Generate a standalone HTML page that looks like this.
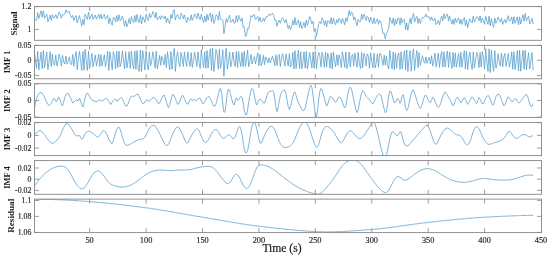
<!DOCTYPE html>
<html><head><meta charset="utf-8"><title>EMD decomposition</title>
<style>html,body{margin:0;padding:0;background:#fff}svg{display:block}text{font-family:"Liberation Serif",serif}</style></head><body>
<svg width="550" height="256" viewBox="0 0 550 256">
<rect width="550" height="256" fill="#fff"/>
<g>
<clipPath id="csig"><rect x="34.5" y="6.6" width="507.0" height="33.7"/></clipPath>
<path clip-path="url(#csig)" d="M34.3,18.8 35.5,19.9 36.6,20.3 37.7,12.5 38.8,18.5 40.0,14.2 41.1,10.7 42.2,17.2 43.4,10.9 44.5,18.4 45.6,16.3 46.7,14.2 47.9,21.8 49.0,19.3 50.1,15.2 51.3,20.3 52.4,14.7 53.5,17.8 54.6,17.8 55.8,14.6 56.9,18.5 58.0,15.4 59.2,12.1 60.3,14.8 61.4,18.2 62.5,14.2 63.7,14.9 64.8,13.9 65.9,9.8 67.1,12.6 68.2,11.9 69.3,11.3 70.4,15.6 71.6,17.6 72.7,15.4 73.8,20.4 75.0,17.3 76.1,15.5 77.2,22.8 78.3,19.3 79.5,15.6 80.6,20.4 81.7,25.8 82.9,19.4 84.0,24.6 85.1,14.3 86.2,16.6 87.4,19.5 88.5,12.3 89.6,19.2 90.8,17.0 91.9,14.1 93.0,19.3 94.1,17.1 95.3,15.0 96.4,19.3 97.5,17.1 98.7,14.4 99.8,18.7 100.9,14.3 102.0,18.8 103.2,16.5 104.3,14.5 105.4,19.1 106.6,17.3 107.7,15.2 108.8,23.9 109.9,18.1 111.1,22.2 112.2,25.2 113.3,17.4 114.5,18.1 115.6,22.1 116.7,15.6 117.8,21.4 119.0,14.7 120.1,20.6 121.2,19.6 122.4,16.2 123.5,21.0 124.6,26.1 125.7,20.5 126.9,26.7 128.0,23.5 129.1,18.5 130.3,23.7 131.4,16.5 132.5,20.6 133.6,22.7 134.8,15.5 135.9,22.0 137.0,14.3 138.2,20.8 139.3,22.6 140.4,15.2 141.5,24.0 142.7,16.6 143.8,19.2 144.9,22.5 146.1,14.3 147.2,18.5 148.3,20.7 149.4,13.5 150.6,17.8 151.7,15.5 152.8,11.5 153.9,13.9 155.1,17.9 156.2,12.2 157.3,19.9 158.5,18.8 159.6,16.1 160.7,19.4 161.8,15.6 163.0,16.8 164.1,18.7 165.2,16.1 166.4,22.6 167.5,18.0 168.6,21.8 169.7,23.7 170.9,14.6 172.0,18.4 173.1,11.8 174.3,9.7 175.4,19.9 176.5,15.8 177.6,14.3 178.8,18.2 179.9,19.4 181.0,13.2 182.2,14.9 183.3,18.9 184.4,14.8 185.5,19.3 186.7,22.7 187.8,17.4 188.9,19.3 190.1,20.7 191.2,14.8 192.3,20.5 193.4,17.6 194.6,13.8 195.7,16.0 196.8,18.9 198.0,13.0 199.1,17.2 200.2,19.8 201.3,14.2 202.5,19.2 203.6,22.6 204.7,16.1 205.9,21.7 207.0,14.2 208.1,20.2 209.2,15.4 210.4,13.0 211.5,21.8 212.6,14.2 213.8,23.5 214.9,20.2 216.0,14.9 217.1,15.4 218.3,20.2 219.4,11.5 220.5,19.2 221.7,19.5 222.8,19.9 223.9,33.7 225.0,26.8 226.2,18.5 227.3,22.6 228.4,18.4 229.6,15.2 230.7,22.2 231.8,21.6 232.9,19.2 234.1,23.4 235.2,22.9 236.3,15.6 237.5,22.1 238.6,15.4 239.7,18.7 240.8,21.3 242.0,17.9 243.1,27.2 244.2,26.8 245.4,36.7 246.5,35.3 247.6,28.3 248.7,29.2 249.9,22.2 251.0,15.7 252.1,17.1 253.3,14.9 254.4,14.7 255.5,19.5 256.6,18.6 257.8,16.5 258.9,21.4 260.0,17.3 261.2,22.0 262.3,20.9 263.4,18.3 264.5,21.4 265.7,17.0 266.8,16.5 267.9,16.4 269.1,13.9 270.2,15.6 271.3,14.6 272.4,13.1 273.6,15.2 274.7,20.2 275.8,19.8 277.0,26.3 278.1,22.0 279.2,20.0 280.3,23.2 281.5,19.4 282.6,17.6 283.7,19.7 284.9,22.6 286.0,19.6 287.1,24.4 288.2,28.7 289.4,25.2 290.5,29.3 291.6,27.1 292.8,20.4 293.9,25.0 295.0,17.6 296.1,25.1 297.3,22.0 298.4,20.1 299.5,27.4 300.7,21.6 301.8,28.5 302.9,26.3 304.0,22.3 305.2,27.7 306.3,20.0 307.4,25.3 308.6,20.6 309.7,16.5 310.8,19.3 311.9,23.8 313.1,21.3 314.2,31.5 315.3,28.7 316.5,36.3 317.6,30.1 318.7,23.6 319.8,21.5 321.0,23.8 322.1,17.7 323.2,20.5 324.4,25.2 325.5,20.5 326.6,27.0 327.7,20.7 328.9,21.1 330.0,23.7 331.1,17.6 332.3,24.1 333.4,18.3 334.5,22.1 335.6,24.8 336.8,19.7 337.9,22.8 339.0,18.3 340.2,20.0 341.3,23.5 342.4,18.1 343.5,21.1 344.7,24.8 345.8,17.7 346.9,21.4 348.1,16.8 349.2,10.5 350.3,15.5 351.4,12.0 352.6,13.3 353.7,19.9 354.8,17.1 356.0,22.3 357.1,25.7 358.2,19.3 359.3,21.6 360.5,21.7 361.6,14.2 362.7,19.3 363.9,14.2 365.0,16.2 366.1,20.6 367.2,16.4 368.4,17.6 369.5,22.6 370.6,17.2 371.8,21.2 372.9,23.7 374.0,17.9 375.1,23.5 376.3,21.5 377.4,18.7 378.5,24.4 379.6,20.4 380.8,22.1 381.9,27.4 383.0,33.5 384.2,33.3 385.3,38.9 386.4,33.4 387.5,31.8 388.7,28.2 389.8,17.5 390.9,20.5 392.1,23.6 393.2,18.0 394.3,25.7 395.4,19.2 396.6,24.1 397.7,18.6 398.8,18.0 400.0,25.0 401.1,17.7 402.2,23.1 403.3,19.7 404.5,19.7 405.6,29.7 406.7,23.0 407.9,30.3 409.0,23.5 410.1,18.3 411.2,23.9 412.4,16.4 413.5,13.4 414.6,22.1 415.8,18.2 416.9,16.3 418.0,23.5 419.1,18.4 420.3,23.5 421.4,20.7 422.5,17.2 423.7,17.7 424.8,16.9 425.9,14.0 427.0,17.0 428.2,16.8 429.3,17.0 430.4,20.4 431.6,16.9 432.7,20.6 433.8,20.1 434.9,18.1 436.1,24.5 437.2,23.0 438.3,20.3 439.5,24.9 440.6,19.3 441.7,16.2 442.8,20.8 444.0,13.8 445.1,18.7 446.2,15.9 447.4,13.9 448.5,20.9 449.6,15.9 450.7,20.2 451.9,24.2 453.0,19.2 454.1,24.5 455.3,18.1 456.4,22.7 457.5,19.7 458.6,17.9 459.8,23.9 460.9,19.2 462.0,24.5 463.2,20.3 464.3,17.6 465.4,25.6 466.5,20.1 467.7,27.6 468.8,22.3 469.9,18.7 471.1,22.1 472.2,22.9 473.3,16.0 474.4,22.1 475.6,19.4 476.7,16.9 477.8,17.3 479.0,20.9 480.1,16.0 481.2,22.7 482.3,18.1 483.5,20.8 484.6,24.4 485.7,16.3 486.9,21.0 488.0,24.3 489.1,16.1 490.2,25.9 491.4,18.6 492.5,24.5 493.6,27.2 494.8,18.1 495.9,23.3 497.0,21.2 498.1,16.9 499.3,19.9 500.4,22.2 501.5,18.2 502.7,24.4 503.8,21.5 504.9,19.5 506.0,23.0 507.2,19.3 508.3,15.7 509.4,21.3 510.6,20.0 511.7,17.0 512.8,23.9 513.9,16.8 515.1,23.3 516.2,20.5 517.3,16.9 518.5,25.0 519.6,16.9 520.7,24.1 521.8,19.4 523.0,14.8 524.1,21.2 525.2,13.5 526.4,20.8 527.5,18.0 528.6,16.3 529.7,23.9 530.9,21.5 532.0,18.3 533.1,24.2" fill="none" stroke="#4f9bcd" stroke-width="0.74" stroke-linejoin="round"/>
<rect x="34.5" y="6.6" width="507.0" height="33.7" fill="none" stroke="#868686" stroke-width="0.9"/>
<path d="M89.6,40.3v-4.5M89.6,6.6v4.5M146.1,40.3v-4.5M146.1,6.6v4.5M202.5,40.3v-4.5M202.5,6.6v4.5M258.9,40.3v-4.5M258.9,6.6v4.5M315.3,40.3v-4.5M315.3,6.6v4.5M371.8,40.3v-4.5M371.8,6.6v4.5M428.2,40.3v-4.5M428.2,6.6v4.5M484.6,40.3v-4.5M484.6,6.6v4.5M34.5,6.6h4.5M541.5,6.6h-4.5M34.5,29.4h4.5M541.5,29.4h-4.5" fill="none" stroke="#868686" stroke-width="0.8"/>
<text x="31.3" y="9.0" font-size="7.8" text-anchor="end" fill="#2a2a2a" stroke="#2a2a2a" stroke-width="0.18">1.2</text>
<text x="31.3" y="32.0" font-size="7.8" text-anchor="end" fill="#2a2a2a" stroke="#2a2a2a" stroke-width="0.18">1</text>
<text transform="translate(16.8,35.5) rotate(-90)" font-size="8.4" font-weight="bold" textLength="24.0" lengthAdjust="spacingAndGlyphs" fill="#1a1a1a">Signal</text>
</g>
<g>
<clipPath id="cimf1"><rect x="34.5" y="45.4" width="507.0" height="33.4"/></clipPath>
<path clip-path="url(#cimf1)" d="M34.3,50.2 35.5,61.1 36.6,68.2 37.7,51.4 38.8,69.8 40.0,60.3 41.1,51.9 42.2,68.7 43.4,50.5 44.5,68.0 45.6,60.0 46.7,52.0 47.9,69.7 49.0,62.0 50.1,51.6 51.3,66.5 52.4,53.9 53.5,64.3 54.6,65.1 55.8,55.0 56.9,66.0 58.0,61.5 59.2,54.1 60.3,59.3 61.4,66.2 62.5,55.4 63.7,62.0 64.8,64.0 65.9,56.1 67.1,64.2 68.2,61.5 69.3,56.9 70.4,63.9 71.6,64.5 72.7,54.4 73.8,66.3 75.0,57.0 76.1,51.7 77.2,69.6 78.3,59.4 79.5,51.4 80.6,60.3 81.7,70.4 82.9,51.5 84.0,70.2 85.1,49.3 86.2,60.6 87.4,70.5 88.5,51.1 89.6,68.6 90.8,61.7 91.9,53.3 93.0,66.9 94.1,60.8 95.3,55.0 96.4,66.2 97.5,60.5 98.7,54.5 99.8,66.5 100.9,54.5 102.0,66.0 103.2,60.3 104.3,54.8 105.4,66.6 106.6,60.4 107.7,51.2 108.8,70.5 109.9,51.9 111.1,60.3 112.2,69.8 113.3,51.6 114.5,56.1 115.6,68.7 116.7,51.0 117.8,67.3 119.0,51.1 120.1,66.8 121.2,62.8 122.4,50.9 123.5,59.6 124.6,68.9 125.7,51.6 126.9,67.9 128.0,61.5 129.1,51.6 130.3,68.4 131.4,51.3 132.5,63.2 133.6,68.8 134.8,51.0 135.9,69.4 137.0,50.5 138.2,68.4 139.3,71.4 140.4,50.1 141.5,71.6 142.7,50.7 143.8,58.4 144.9,70.0 146.1,50.9 147.2,64.2 148.3,69.9 149.4,52.0 150.6,65.6 151.7,61.1 152.8,51.8 153.9,58.4 155.1,68.1 156.2,51.1 157.3,68.9 158.5,62.8 159.6,55.4 160.7,65.3 161.8,56.3 163.0,60.4 164.1,64.9 165.2,54.4 166.4,67.5 167.5,51.7 168.6,60.7 169.7,69.7 170.9,51.4 172.0,69.2 173.1,56.5 174.3,48.3 175.4,71.3 176.5,57.6 177.6,51.7 178.8,62.1 179.9,66.8 181.0,52.3 182.2,58.0 183.3,66.4 184.4,51.9 185.5,60.2 186.7,66.2 187.8,51.8 188.9,59.6 190.1,66.4 191.2,52.7 192.3,67.4 193.4,61.0 194.6,52.4 195.7,58.2 196.8,66.4 198.0,51.9 199.1,63.2 200.2,68.5 201.3,49.9 202.5,59.6 203.6,67.7 204.7,51.8 205.9,68.2 207.0,50.5 208.1,68.1 209.2,55.9 210.4,48.8 211.5,70.4 212.6,48.3 213.8,71.5 214.9,62.1 216.0,49.5 217.1,53.4 218.3,69.3 219.4,49.0 220.5,68.5 221.7,62.3 222.8,49.8 223.9,76.3 225.0,59.3 226.2,48.4 227.3,69.0 228.4,61.9 229.6,52.0 230.7,66.9 231.8,61.6 232.9,52.0 234.1,62.5 235.2,66.5 236.3,51.4 237.5,67.5 238.6,51.5 239.7,61.0 240.8,66.6 242.0,52.5 243.1,66.4 244.2,51.3 245.4,66.3 246.5,60.1 247.6,50.1 248.7,66.7 249.9,61.5 251.0,54.4 252.1,64.0 253.3,59.3 254.4,56.7 255.5,63.9 256.6,58.0 257.8,52.8 258.9,65.7 260.0,54.3 261.2,65.7 262.3,62.5 263.4,55.3 264.5,64.7 265.7,56.9 266.8,59.5 267.9,62.9 269.1,57.9 270.2,62.8 271.3,60.0 272.4,56.2 273.6,59.9 274.7,65.6 275.8,54.8 277.0,65.7 278.1,55.9 279.2,54.4 280.3,66.5 281.5,58.0 282.6,53.7 283.7,59.2 284.9,66.1 286.0,54.0 287.1,60.1 288.2,66.0 289.4,53.6 290.5,67.1 291.6,65.4 292.8,52.4 293.9,69.0 295.0,50.7 296.1,68.4 297.3,57.2 298.4,50.4 299.5,68.5 300.7,51.9 301.8,68.9 302.9,62.3 304.0,51.8 305.2,68.1 306.3,51.4 307.4,69.1 308.6,60.4 309.7,52.4 310.8,60.0 311.9,68.1 313.1,51.9 314.2,68.2 315.3,51.3 316.5,68.7 317.6,58.1 318.7,52.5 319.8,55.5 321.0,66.9 322.1,52.2 323.2,57.6 324.4,67.3 325.5,52.3 326.6,67.0 327.7,53.1 328.9,57.8 330.0,68.1 331.1,52.8 332.3,68.8 333.4,52.1 334.5,60.8 335.6,66.8 336.8,54.8 337.9,65.3 339.0,54.9 340.2,59.5 341.3,67.5 342.4,51.7 343.5,58.0 344.7,67.5 345.8,52.0 346.9,68.5 348.1,64.0 349.2,52.0 350.3,67.0 351.4,56.1 352.6,54.5 353.7,66.1 354.8,52.9 356.0,61.2 357.1,67.2 358.2,52.3 359.3,63.2 360.5,68.5 361.6,52.6 362.7,67.9 363.9,53.4 365.0,56.8 366.1,66.0 367.2,53.9 368.4,56.4 369.5,68.3 370.6,52.7 371.8,61.7 372.9,67.7 374.0,53.1 375.1,68.0 376.3,62.3 377.4,54.0 378.5,67.1 379.6,53.7 380.8,53.8 381.9,59.9 383.0,65.4 384.2,55.1 385.3,65.2 386.4,55.9 387.5,64.8 388.7,69.0 389.8,50.4 390.9,61.5 392.1,68.9 393.2,51.8 394.3,69.8 395.4,53.0 396.6,68.2 397.7,55.4 398.8,53.1 400.0,69.6 401.1,51.8 402.2,68.7 403.3,58.1 404.5,50.8 405.6,69.7 406.7,49.9 407.9,71.5 409.0,58.7 410.1,50.5 411.2,71.2 412.4,55.9 413.5,49.0 414.6,70.4 415.8,57.8 416.9,50.6 418.0,67.7 419.1,52.5 420.3,65.5 421.4,60.5 422.5,55.6 423.7,61.6 424.8,63.3 425.9,56.8 427.0,63.3 428.2,59.7 429.3,57.1 430.4,64.1 431.6,55.6 432.7,66.1 433.8,62.2 434.9,53.2 436.1,66.9 437.2,60.7 438.3,53.1 439.5,67.4 440.6,56.0 441.7,51.6 442.8,67.2 444.0,51.9 445.1,66.9 446.2,58.3 447.4,51.0 448.5,67.4 449.6,51.9 450.7,60.7 451.9,68.5 453.0,52.2 454.1,67.0 455.3,52.9 456.4,67.1 457.5,60.1 458.6,53.5 459.8,67.1 460.9,52.3 462.0,67.2 463.2,57.5 464.3,50.6 465.4,69.1 466.5,51.3 467.7,69.5 468.8,58.0 469.9,51.9 471.1,64.3 472.2,69.4 473.3,51.9 474.4,67.7 475.6,59.6 476.7,52.4 477.8,56.2 479.0,67.7 480.1,52.5 481.2,66.9 482.3,51.5 483.5,57.6 484.6,69.1 485.7,48.8 486.9,62.5 488.0,71.3 489.1,48.9 490.2,72.6 491.4,50.2 492.5,63.2 493.6,71.2 494.8,50.6 495.9,68.1 497.0,64.7 498.1,53.7 499.3,61.9 500.4,66.1 501.5,53.0 502.7,66.7 503.8,56.9 504.9,53.3 506.0,66.3 507.2,60.3 508.3,53.4 509.4,67.1 510.6,61.9 511.7,51.8 512.8,69.2 513.9,51.7 515.1,69.5 516.2,61.8 517.3,50.5 518.5,71.0 519.6,50.2 520.7,71.2 521.8,60.8 523.0,50.4 524.1,69.2 525.2,50.4 526.4,69.9 527.5,60.6 528.6,52.7 529.7,68.9 530.9,60.6 532.0,52.5 533.1,70.4" fill="none" stroke="#4f9bcd" stroke-width="0.74" stroke-linejoin="round"/>
<rect x="34.5" y="45.4" width="507.0" height="33.4" fill="none" stroke="#868686" stroke-width="0.9"/>
<path d="M89.6,78.8v-4.5M89.6,45.4v4.5M146.1,78.8v-4.5M146.1,45.4v4.5M202.5,78.8v-4.5M202.5,45.4v4.5M258.9,78.8v-4.5M258.9,45.4v4.5M315.3,78.8v-4.5M315.3,45.4v4.5M371.8,78.8v-4.5M371.8,45.4v4.5M428.2,78.8v-4.5M428.2,45.4v4.5M484.6,78.8v-4.5M484.6,45.4v4.5M34.5,45.4h4.5M541.5,45.4h-4.5M34.5,60.3h4.5M541.5,60.3h-4.5M34.5,75.5h4.5M541.5,75.5h-4.5" fill="none" stroke="#868686" stroke-width="0.8"/>
<text x="31.3" y="47.7" font-size="7.8" text-anchor="end" fill="#2a2a2a" stroke="#2a2a2a" stroke-width="0.18">0.05</text>
<text x="31.3" y="62.9" font-size="7.8" text-anchor="end" fill="#2a2a2a" stroke="#2a2a2a" stroke-width="0.18">0</text>
<text x="31.3" y="78.1" font-size="7.8" text-anchor="end" fill="#2a2a2a" stroke="#2a2a2a" stroke-width="0.18">-0.05</text>
<text transform="translate(9.8,73.3) rotate(-90)" font-size="8.4" font-weight="bold" textLength="22.4" lengthAdjust="spacingAndGlyphs" fill="#1a1a1a">IMF 1</text>
</g>
<g>
<clipPath id="cimf2"><rect x="34.5" y="83.7" width="507.0" height="33.7"/></clipPath>
<path clip-path="url(#cimf2)" d="M34.3,110.0 35.5,102.7 36.6,98.1 37.7,95.5 38.8,93.8 40.0,92.7 41.1,92.4 42.2,93.2 43.4,95.1 44.5,97.3 45.6,99.8 46.7,102.4 47.9,104.5 49.0,105.4 50.1,104.8 51.3,103.2 52.4,100.8 53.5,98.8 54.6,98.7 55.8,101.3 56.9,101.2 58.0,98.0 59.2,97.4 60.3,100.7 61.4,104.4 62.5,105.8 63.7,101.8 64.8,97.5 65.9,94.5 67.1,93.6 68.2,93.5 69.3,95.1 70.4,97.7 71.6,100.5 72.7,103.1 73.8,102.2 75.0,101.0 76.1,99.9 77.2,100.4 78.3,101.0 79.5,98.1 80.6,100.9 81.7,104.5 82.9,107.0 84.0,103.1 85.1,98.0 86.2,94.0 87.4,93.0 88.5,94.8 89.6,96.7 90.8,98.6 91.9,100.0 93.0,100.6 94.1,101.1 95.3,101.4 96.4,101.6 97.5,101.4 98.7,100.1 99.8,99.7 100.9,100.6 102.0,101.0 103.2,100.4 104.3,99.7 105.4,98.3 106.6,98.2 107.7,99.8 108.8,101.6 109.9,103.5 111.1,104.4 112.2,102.3 113.3,100.7 114.5,99.5 115.6,99.2 116.7,101.2 117.8,101.1 119.0,99.2 120.1,98.0 121.2,97.6 122.4,98.8 123.5,101.1 124.6,104.1 125.7,106.2 126.9,106.0 128.0,104.0 129.1,100.8 130.3,97.9 131.4,96.4 132.5,96.0 133.6,96.5 134.8,95.9 135.9,95.1 137.0,94.3 138.2,94.4 139.3,96.7 140.4,99.3 141.5,101.9 142.7,103.8 143.8,103.6 144.9,101.7 146.1,100.3 147.2,99.6 148.3,101.2 149.4,101.2 150.6,99.9 151.7,98.8 152.8,97.9 153.9,97.6 155.1,98.4 156.2,99.8 157.3,101.9 158.5,104.0 159.6,103.1 160.7,100.6 161.8,98.1 163.0,95.6 164.1,95.1 165.2,97.8 166.4,101.8 167.5,105.9 168.6,107.6 169.7,104.5 170.9,100.5 172.0,96.4 173.1,94.2 174.3,95.9 175.4,98.6 176.5,101.8 177.6,104.3 178.8,103.8 179.9,101.2 181.0,98.0 182.2,95.3 183.3,96.0 184.4,98.6 185.5,101.2 186.7,103.8 187.8,104.1 188.9,101.9 190.1,100.0 191.2,99.0 192.3,100.5 193.4,100.1 194.6,99.6 195.7,100.4 196.8,100.3 198.0,99.0 199.1,98.0 200.2,98.3 201.3,101.0 202.5,103.6 203.6,103.4 204.7,101.5 205.9,99.5 207.0,97.6 208.1,96.5 209.2,96.8 210.4,98.5 211.5,101.2 212.6,104.1 213.8,105.9 214.9,106.3 216.0,103.9 217.1,99.9 218.3,94.7 219.4,89.6 220.5,88.5 221.7,93.4 222.8,104.2 223.9,112.2 225.0,111.8 226.2,102.7 227.3,92.9 228.4,89.0 229.6,91.0 230.7,95.0 231.8,99.3 232.9,103.3 234.1,105.0 235.2,100.7 236.3,97.9 237.5,100.5 238.6,99.7 239.7,98.0 240.8,96.5 242.0,97.2 243.1,102.6 244.2,110.0 245.4,114.9 246.5,114.9 247.6,109.9 248.7,102.2 249.9,95.4 251.0,90.4 252.1,88.5 253.3,90.2 254.4,95.0 255.5,101.6 256.6,105.0 257.8,102.4 258.9,100.1 260.0,99.0 261.2,100.0 262.3,101.4 263.4,103.1 264.5,103.1 265.7,100.0 266.8,96.5 267.9,93.1 269.1,91.8 270.2,91.3 271.3,91.1 272.4,90.5 273.6,91.3 274.7,98.0 275.8,106.8 277.0,111.7 278.1,107.6 279.2,101.2 280.3,95.7 281.5,92.5 282.6,90.8 283.7,90.1 284.9,90.1 286.0,94.0 287.1,100.6 288.2,106.3 289.4,109.4 290.5,106.4 291.6,102.0 292.8,97.0 293.9,92.6 295.0,92.1 296.1,95.5 297.3,99.8 298.4,102.9 299.5,105.1 300.7,107.2 301.8,109.2 302.9,110.5 304.0,110.3 305.2,107.8 306.3,103.3 307.4,97.9 308.6,92.2 309.7,87.5 310.8,85.3 311.9,87.3 313.1,95.7 314.2,105.6 315.3,114.5 316.5,116.7 317.6,110.4 318.7,99.1 319.8,91.8 321.0,88.4 322.1,89.5 323.2,93.7 324.4,98.4 325.5,102.6 326.6,106.1 327.7,104.0 328.9,100.5 330.0,97.0 331.1,96.5 332.3,97.9 333.4,99.5 334.5,101.2 335.6,102.4 336.8,101.0 337.9,98.5 339.0,97.0 340.2,97.4 341.3,99.3 342.4,102.2 343.5,105.8 344.7,107.7 345.8,105.7 346.9,100.1 348.1,92.7 349.2,88.5 350.3,87.2 351.4,88.9 352.6,93.8 353.7,99.5 354.8,105.1 356.0,110.4 357.1,112.6 358.2,109.9 359.3,103.7 360.5,97.7 361.6,93.0 362.7,90.9 363.9,91.8 365.0,93.8 366.1,96.5 367.2,97.6 368.4,98.4 369.5,99.8 370.6,101.3 371.8,103.3 372.9,103.9 374.0,101.8 375.1,99.5 376.3,97.2 377.4,95.5 378.5,94.3 379.6,93.9 380.8,95.0 381.9,98.9 383.0,104.4 384.2,109.0 385.3,112.7 386.4,111.8 387.5,104.8 388.7,96.2 389.8,90.9 390.9,91.4 392.1,95.2 393.2,99.5 394.3,102.8 395.4,102.3 396.6,100.0 397.7,98.4 398.8,100.3 400.0,103.3 401.1,100.7 402.2,95.6 403.3,94.7 404.5,100.7 405.6,108.0 406.7,110.4 407.9,108.6 409.0,103.7 410.1,98.7 411.2,93.7 412.4,90.0 413.5,90.2 414.6,93.2 415.8,96.9 416.9,100.5 418.0,103.9 419.1,106.9 420.3,108.4 421.4,106.8 422.5,103.1 423.7,98.8 424.8,95.7 425.9,95.2 427.0,97.1 428.2,99.8 429.3,102.1 430.4,102.6 431.6,100.0 432.7,97.3 433.8,98.0 434.9,100.9 436.1,103.7 437.2,106.5 438.3,107.6 439.5,106.3 440.6,103.5 441.7,100.0 442.8,96.8 444.0,93.9 445.1,91.8 446.2,93.3 447.4,95.2 448.5,97.1 449.6,99.1 450.7,101.0 451.9,103.4 453.0,105.8 454.1,104.4 455.3,100.8 456.4,98.0 457.5,96.9 458.6,98.7 459.8,100.8 460.9,103.0 462.0,101.3 463.2,98.9 464.3,97.6 465.4,99.6 466.5,102.4 467.7,104.3 468.8,102.3 469.9,100.1 471.1,98.2 472.2,96.8 473.3,98.1 474.4,100.1 475.6,102.3 476.7,103.6 477.8,100.4 479.0,97.5 480.1,99.1 481.2,101.5 482.3,103.9 483.5,103.7 484.6,100.6 485.7,98.3 486.9,96.3 488.0,95.6 489.1,96.2 490.2,98.7 491.4,102.3 492.5,105.3 493.6,104.4 494.8,100.8 495.9,96.7 497.0,94.8 498.1,94.4 499.3,94.4 500.4,96.7 501.5,99.8 502.7,102.9 503.8,105.9 504.9,104.8 506.0,101.9 507.2,98.7 508.3,96.8 509.4,98.2 510.6,99.8 511.7,101.6 512.8,101.7 513.9,99.7 515.1,98.6 516.2,99.0 517.3,101.2 518.5,102.8 519.6,102.8 520.7,101.4 521.8,99.8 523.0,98.2 524.1,96.6 525.2,94.9 526.4,94.4 527.5,96.2 528.6,99.8 529.7,104.0 530.9,106.2 532.0,106.3 533.1,103.6" fill="none" stroke="#4f9bcd" stroke-width="0.74" stroke-linejoin="round"/>
<rect x="34.5" y="83.7" width="507.0" height="33.7" fill="none" stroke="#868686" stroke-width="0.9"/>
<path d="M89.6,117.4v-4.5M89.6,83.7v4.5M146.1,117.4v-4.5M146.1,83.7v4.5M202.5,117.4v-4.5M202.5,83.7v4.5M258.9,117.4v-4.5M258.9,83.7v4.5M315.3,117.4v-4.5M315.3,83.7v4.5M371.8,117.4v-4.5M371.8,83.7v4.5M428.2,117.4v-4.5M428.2,83.7v4.5M484.6,117.4v-4.5M484.6,83.7v4.5M34.5,83.8h4.5M541.5,83.8h-4.5M34.5,100.5h4.5M541.5,100.5h-4.5M34.5,117.2h4.5M541.5,117.2h-4.5" fill="none" stroke="#868686" stroke-width="0.8"/>
<text x="31.3" y="86.4" font-size="7.8" text-anchor="end" fill="#2a2a2a" stroke="#2a2a2a" stroke-width="0.18">0.05</text>
<text x="31.3" y="103.1" font-size="7.8" text-anchor="end" fill="#2a2a2a" stroke="#2a2a2a" stroke-width="0.18">0</text>
<text x="31.3" y="119.8" font-size="7.8" text-anchor="end" fill="#2a2a2a" stroke="#2a2a2a" stroke-width="0.18">-0.05</text>
<text transform="translate(9.8,111.9) rotate(-90)" font-size="8.4" font-weight="bold" textLength="22.6" lengthAdjust="spacingAndGlyphs" fill="#1a1a1a">IMF 2</text>
</g>
<g>
<clipPath id="cimf3"><rect x="34.5" y="122.4" width="507.0" height="33.2"/></clipPath>
<path clip-path="url(#cimf3)" d="M34.3,135.5 35.5,134.2 36.6,132.8 37.7,131.6 38.8,130.9 40.0,130.7 41.1,131.1 42.2,132.0 43.4,133.3 44.5,134.7 45.6,136.3 46.7,137.8 47.9,139.4 49.0,140.8 50.1,142.1 51.3,143.0 52.4,143.4 53.5,143.1 54.6,142.3 55.8,141.2 56.9,140.1 58.0,138.8 59.2,137.3 60.3,135.3 61.4,132.9 62.5,130.1 63.7,127.5 64.8,125.3 65.9,123.8 67.1,123.4 68.2,123.9 69.3,125.2 70.4,126.9 71.6,128.7 72.7,130.7 73.8,132.7 75.0,134.6 76.1,135.9 77.2,136.0 78.3,135.4 79.5,135.7 80.6,137.6 81.7,139.2 82.9,138.5 84.0,136.1 85.1,133.7 86.2,132.2 87.4,131.5 88.5,131.3 89.6,131.5 90.8,132.1 91.9,132.8 93.0,133.7 94.1,134.6 95.3,135.6 96.4,136.5 97.5,137.0 98.7,136.6 99.8,135.3 100.9,133.6 102.0,132.0 103.2,130.9 104.3,130.8 105.4,131.9 106.6,133.9 107.7,136.4 108.8,139.1 109.9,141.5 111.1,143.3 112.2,143.3 113.3,140.7 114.5,136.6 115.6,132.7 116.7,129.5 117.8,127.5 119.0,127.3 120.1,129.2 121.2,132.6 122.4,136.7 123.5,140.6 124.6,143.4 125.7,144.9 126.9,145.4 128.0,145.3 129.1,144.7 130.3,144.0 131.4,143.3 132.5,142.8 133.6,142.2 134.8,141.6 135.9,141.0 137.0,140.3 138.2,139.8 139.3,139.4 140.4,139.3 141.5,139.3 142.7,139.1 143.8,138.4 144.9,137.0 146.1,135.0 147.2,132.7 148.3,130.4 149.4,128.4 150.6,126.8 151.7,125.8 152.8,125.3 153.9,125.5 155.1,126.1 156.2,127.4 157.3,129.1 158.5,131.2 159.6,133.6 160.7,136.0 161.8,138.3 163.0,140.6 164.1,142.7 165.2,144.5 166.4,145.5 167.5,145.3 168.6,143.8 169.7,141.5 170.9,138.7 172.0,135.8 173.1,133.1 174.3,130.6 175.4,128.7 176.5,127.4 177.6,126.9 178.8,127.4 179.9,129.0 181.0,131.2 182.2,133.6 183.3,136.2 184.4,138.9 185.5,141.5 186.7,143.0 187.8,142.7 188.9,140.8 190.1,138.5 191.2,136.3 192.3,134.3 193.4,132.5 194.6,130.8 195.7,129.4 196.8,128.8 198.0,129.3 199.1,130.9 200.2,133.3 201.3,136.1 202.5,138.9 203.6,141.1 204.7,142.3 205.9,142.5 207.0,141.7 208.1,140.1 209.2,138.2 210.4,136.0 211.5,133.9 212.6,132.0 213.8,130.5 214.9,129.6 216.0,129.5 217.1,130.3 218.3,131.7 219.4,133.6 220.5,135.5 221.7,137.2 222.8,138.2 223.9,138.3 225.0,137.7 226.2,136.6 227.3,135.5 228.4,134.8 229.6,134.9 230.7,136.1 231.8,137.7 232.9,138.7 234.1,138.5 235.2,137.0 236.3,134.0 237.5,130.2 238.6,127.3 239.7,126.4 240.8,128.8 242.0,134.3 243.1,142.1 244.2,148.9 245.4,152.4 246.5,152.9 247.6,150.5 248.7,145.3 249.9,137.9 251.0,130.7 252.1,125.9 253.3,123.1 254.4,122.2 255.5,124.0 256.6,128.3 257.8,133.9 258.9,139.3 260.0,142.8 261.2,143.2 262.3,141.0 263.4,138.1 264.5,135.3 265.7,132.8 266.8,130.6 267.9,128.9 269.1,127.5 270.2,126.6 271.3,126.3 272.4,126.6 273.6,127.8 274.7,129.8 275.8,132.4 277.0,135.4 278.1,138.6 279.2,141.3 280.3,143.5 281.5,145.2 282.6,146.4 283.7,147.1 284.9,147.4 286.0,147.5 287.1,147.4 288.2,147.1 289.4,146.6 290.5,145.8 291.6,144.6 292.8,143.1 293.9,141.2 295.0,138.8 296.1,136.0 297.3,133.1 298.4,130.4 299.5,127.9 300.7,125.8 301.8,124.0 302.9,122.7 304.0,121.9 305.2,121.9 306.3,122.7 307.4,124.4 308.6,126.7 309.7,129.5 310.8,132.7 311.9,136.2 313.1,139.9 314.2,143.2 315.3,145.8 316.5,147.2 317.6,146.7 318.7,144.3 319.8,140.6 321.0,136.2 322.1,132.3 323.2,129.6 324.4,127.9 325.5,126.9 326.6,126.5 327.7,126.6 328.9,127.1 330.0,128.0 331.1,129.1 332.3,130.4 333.4,131.8 334.5,133.4 335.6,135.2 336.8,137.2 337.9,139.2 339.0,140.9 340.2,142.2 341.3,142.6 342.4,141.8 343.5,140.1 344.7,138.0 345.8,135.8 346.9,133.8 348.1,132.2 349.2,131.1 350.3,130.7 351.4,131.1 352.6,132.1 353.7,133.5 354.8,134.9 356.0,136.2 357.1,137.4 358.2,138.2 359.3,138.6 360.5,138.5 361.6,137.9 362.7,136.9 363.9,135.6 365.0,133.9 366.1,132.1 367.2,130.4 368.4,128.8 369.5,127.2 370.6,125.3 371.8,122.9 372.9,121.3 374.0,121.8 375.1,124.2 376.3,127.8 377.4,132.0 378.5,136.8 379.6,141.9 380.8,146.8 381.9,151.1 383.0,155.0 384.2,158.0 385.3,158.6 386.4,155.5 387.5,150.4 388.7,144.7 389.8,139.1 390.9,134.6 392.1,132.0 393.2,131.6 394.3,132.7 395.4,134.4 396.6,135.6 397.7,135.5 398.8,133.6 400.0,131.8 401.1,132.3 402.2,136.1 403.3,140.7 404.5,143.9 405.6,145.6 406.7,146.1 407.9,145.7 409.0,144.8 410.1,143.7 411.2,142.4 412.4,141.1 413.5,139.8 414.6,138.4 415.8,137.1 416.9,135.7 418.0,134.4 419.1,133.1 420.3,131.8 421.4,130.6 422.5,129.3 423.7,128.0 424.8,126.6 425.9,125.5 427.0,125.2 428.2,126.2 429.3,128.4 430.4,131.5 431.6,134.9 432.7,138.4 433.8,141.5 434.9,143.7 436.1,144.4 437.2,143.2 438.3,140.9 439.5,138.2 440.6,135.8 441.7,133.7 442.8,131.8 444.0,130.3 445.1,129.1 446.2,128.3 447.4,128.1 448.5,128.4 449.6,129.1 450.7,130.1 451.9,131.2 453.0,132.3 454.1,133.4 455.3,134.2 456.4,134.7 457.5,134.9 458.6,135.1 459.8,135.4 460.9,136.3 462.0,137.7 463.2,139.6 464.3,141.6 465.4,143.5 466.5,144.8 467.7,144.9 468.8,143.8 469.9,141.6 471.1,138.5 472.2,134.9 473.3,131.5 474.4,128.8 475.6,127.1 476.7,126.5 477.8,127.2 479.0,128.8 480.1,131.0 481.2,133.4 482.3,136.0 483.5,138.3 484.6,140.4 485.7,142.1 486.9,143.4 488.0,144.1 489.1,144.4 490.2,144.2 491.4,143.9 492.5,143.4 493.6,143.0 494.8,142.6 495.9,142.2 497.0,141.9 498.1,141.5 499.3,141.2 500.4,140.7 501.5,140.2 502.7,139.5 503.8,138.5 504.9,137.1 506.0,135.3 507.2,133.2 508.3,131.7 509.4,131.3 510.6,132.1 511.7,133.7 512.8,135.4 513.9,136.9 515.1,138.0 516.2,138.4 517.3,138.2 518.5,137.5 519.6,136.6 520.7,135.8 521.8,135.0 523.0,134.6 524.1,134.5 525.2,134.9 526.4,135.4 527.5,136.1 528.6,136.6 529.7,136.9 530.9,136.7 532.0,135.9 533.1,135.5" fill="none" stroke="#4f9bcd" stroke-width="0.74" stroke-linejoin="round"/>
<rect x="34.5" y="122.4" width="507.0" height="33.2" fill="none" stroke="#868686" stroke-width="0.9"/>
<path d="M89.6,155.6v-4.5M89.6,122.4v4.5M146.1,155.6v-4.5M146.1,122.4v4.5M202.5,155.6v-4.5M202.5,122.4v4.5M258.9,155.6v-4.5M258.9,122.4v4.5M315.3,155.6v-4.5M315.3,122.4v4.5M371.8,155.6v-4.5M371.8,122.4v4.5M428.2,155.6v-4.5M428.2,122.4v4.5M484.6,155.6v-4.5M484.6,122.4v4.5M34.5,122.7h4.5M541.5,122.7h-4.5M34.5,135.4h4.5M541.5,135.4h-4.5M34.5,148.1h4.5M541.5,148.1h-4.5" fill="none" stroke="#868686" stroke-width="0.8"/>
<text x="31.3" y="125.3" font-size="7.8" text-anchor="end" fill="#2a2a2a" stroke="#2a2a2a" stroke-width="0.18">0.02</text>
<text x="31.3" y="138.0" font-size="7.8" text-anchor="end" fill="#2a2a2a" stroke="#2a2a2a" stroke-width="0.18">0</text>
<text x="31.3" y="150.7" font-size="7.8" text-anchor="end" fill="#2a2a2a" stroke="#2a2a2a" stroke-width="0.18">-0.02</text>
<text transform="translate(9.8,150.3) rotate(-90)" font-size="8.4" font-weight="bold" textLength="22.6" lengthAdjust="spacingAndGlyphs" fill="#1a1a1a">IMF 3</text>
</g>
<g>
<clipPath id="cimf4"><rect x="34.5" y="160.6" width="507.0" height="33.7"/></clipPath>
<path clip-path="url(#cimf4)" d="M34.3,185.9 35.5,184.5 36.6,183.0 37.7,181.5 38.8,180.0 40.0,178.7 41.1,177.4 42.2,176.2 43.4,175.0 44.5,174.0 45.6,173.0 46.7,172.0 47.9,171.2 49.0,170.4 50.1,169.6 51.3,169.0 52.4,168.4 53.5,167.8 54.6,167.4 55.8,167.0 56.9,166.6 58.0,166.4 59.2,166.2 60.3,166.1 61.4,166.1 62.5,166.2 63.7,166.5 64.8,167.0 65.9,167.8 67.1,168.8 68.2,170.1 69.3,171.7 70.4,173.6 71.6,175.6 72.7,177.8 73.8,179.9 75.0,181.9 76.1,183.7 77.2,185.3 78.3,186.6 79.5,187.6 80.6,188.4 81.7,188.7 82.9,188.6 84.0,188.0 85.1,186.9 86.2,185.4 87.4,183.6 88.5,181.6 89.6,179.5 90.8,177.5 91.9,175.7 93.0,174.1 94.1,172.8 95.3,171.8 96.4,171.2 97.5,170.9 98.7,171.0 99.8,171.5 100.9,172.4 102.0,173.6 103.2,175.0 104.3,176.6 105.4,178.2 106.6,179.7 107.7,181.1 108.8,182.3 109.9,183.4 111.1,184.3 112.2,184.9 113.3,185.4 114.5,185.8 115.6,186.1 116.7,186.4 117.8,186.6 119.0,186.8 120.1,187.0 121.2,187.1 122.4,187.1 123.5,187.0 124.6,186.9 125.7,186.7 126.9,186.4 128.0,186.1 129.1,185.7 130.3,185.3 131.4,184.7 132.5,184.2 133.6,183.5 134.8,182.9 135.9,182.1 137.0,181.3 138.2,180.4 139.3,179.6 140.4,178.7 141.5,177.8 142.7,176.9 143.8,176.1 144.9,175.3 146.1,174.5 147.2,173.8 148.3,173.2 149.4,172.6 150.6,172.1 151.7,171.7 152.8,171.3 153.9,170.9 155.1,170.7 156.2,170.4 157.3,170.2 158.5,170.1 159.6,170.0 160.7,170.0 161.8,170.0 163.0,170.0 164.1,170.1 165.2,170.2 166.4,170.3 167.5,170.5 168.6,170.5 169.7,170.6 170.9,170.6 172.0,170.6 173.1,170.5 174.3,170.4 175.4,170.3 176.5,170.2 177.6,170.1 178.8,170.0 179.9,170.0 181.0,170.0 182.2,170.0 183.3,170.0 184.4,170.0 185.5,169.9 186.7,169.9 187.8,169.9 188.9,169.7 190.1,169.6 191.2,169.4 192.3,169.1 193.4,168.8 194.6,168.5 195.7,168.2 196.8,167.9 198.0,167.6 199.1,167.4 200.2,167.1 201.3,167.0 202.5,166.8 203.6,166.6 204.7,166.5 205.9,166.4 207.0,166.3 208.1,166.3 209.2,166.4 210.4,166.6 211.5,166.9 212.6,167.5 213.8,168.2 214.9,169.2 216.0,170.5 217.1,171.9 218.3,173.4 219.4,174.9 220.5,176.4 221.7,178.0 222.8,179.4 223.9,180.8 225.0,182.0 226.2,182.9 227.3,183.5 228.4,183.5 229.6,182.8 230.7,181.5 231.8,179.6 232.9,177.6 234.1,175.9 235.2,174.8 236.3,174.4 237.5,174.8 238.6,176.0 239.7,177.9 240.8,180.4 242.0,182.9 243.1,185.1 244.2,186.8 245.4,187.9 246.5,188.4 247.6,188.1 248.7,187.0 249.9,185.1 251.0,182.6 252.1,179.7 253.3,176.6 254.4,173.6 255.5,170.7 256.6,168.0 257.8,166.2 258.9,165.3 260.0,165.0 261.2,164.9 262.3,164.9 263.4,165.1 264.5,165.3 265.7,165.6 266.8,166.0 267.9,166.4 269.1,166.9 270.2,167.5 271.3,168.2 272.4,168.9 273.6,169.6 274.7,170.4 275.8,171.3 277.0,172.1 278.1,173.0 279.2,173.9 280.3,174.7 281.5,175.6 282.6,176.5 283.7,177.4 284.9,178.3 286.0,179.1 287.1,180.0 288.2,180.9 289.4,181.7 290.5,182.5 291.6,183.3 292.8,184.1 293.9,184.9 295.0,185.6 296.1,186.3 297.3,186.9 298.4,187.6 299.5,188.2 300.7,188.7 301.8,189.3 302.9,189.8 304.0,190.3 305.2,190.7 306.3,191.2 307.4,191.6 308.6,192.0 309.7,192.5 310.8,192.8 311.9,193.2 313.1,193.5 314.2,193.8 315.3,194.0 316.5,194.1 317.6,194.2 318.7,194.0 319.8,193.7 321.0,193.1 322.1,192.3 323.2,191.3 324.4,190.1 325.5,188.8 326.6,187.5 327.7,186.1 328.9,184.7 330.0,183.3 331.1,181.9 332.3,180.4 333.4,178.8 334.5,177.2 335.6,175.5 336.8,173.8 337.9,172.1 339.0,170.3 340.2,168.7 341.3,167.1 342.4,165.7 343.5,164.5 344.7,163.4 345.8,162.5 346.9,161.8 348.1,161.2 349.2,160.7 350.3,160.5 351.4,160.3 352.6,160.2 353.7,160.2 354.8,160.3 356.0,160.6 357.1,161.0 358.2,161.7 359.3,162.5 360.5,163.6 361.6,164.8 362.7,166.1 363.9,167.6 365.0,169.2 366.1,170.8 367.2,172.4 368.4,174.0 369.5,175.6 370.6,177.2 371.8,178.8 372.9,180.4 374.0,181.9 375.1,183.4 376.3,184.8 377.4,186.2 378.5,187.5 379.6,188.7 380.8,189.8 381.9,190.8 383.0,191.7 384.2,192.3 385.3,192.6 386.4,192.4 387.5,191.7 388.7,190.5 389.8,188.6 390.9,186.4 392.1,183.9 393.2,181.6 394.3,179.6 395.4,178.1 396.6,177.0 397.7,176.5 398.8,176.7 400.0,177.2 401.1,178.0 402.2,178.9 403.3,179.6 404.5,180.1 405.6,180.1 406.7,179.8 407.9,179.3 409.0,178.5 410.1,177.7 411.2,176.8 412.4,175.9 413.5,175.0 414.6,174.2 415.8,173.3 416.9,172.6 418.0,171.8 419.1,171.2 420.3,170.6 421.4,170.0 422.5,169.6 423.7,169.2 424.8,169.0 425.9,168.8 427.0,168.7 428.2,168.7 429.3,168.8 430.4,169.0 431.6,169.3 432.7,169.6 433.8,170.1 434.9,170.6 436.1,171.2 437.2,171.9 438.3,172.6 439.5,173.3 440.6,174.0 441.7,174.8 442.8,175.5 444.0,176.2 445.1,176.9 446.2,177.5 447.4,178.2 448.5,178.7 449.6,179.3 450.7,179.7 451.9,180.2 453.0,180.5 454.1,180.9 455.3,181.2 456.4,181.5 457.5,181.7 458.6,181.9 459.8,182.1 460.9,182.2 462.0,182.3 463.2,182.4 464.3,182.4 465.4,182.3 466.5,182.2 467.7,182.0 468.8,181.8 469.9,181.6 471.1,181.3 472.2,181.0 473.3,180.7 474.4,180.3 475.6,180.0 476.7,179.6 477.8,179.3 479.0,179.1 480.1,178.8 481.2,178.7 482.3,178.6 483.5,178.5 484.6,178.5 485.7,178.6 486.9,178.7 488.0,178.8 489.1,179.0 490.2,179.2 491.4,179.3 492.5,179.5 493.6,179.6 494.8,179.8 495.9,179.9 497.0,179.9 498.1,180.0 499.3,180.0 500.4,180.1 501.5,180.1 502.7,180.1 503.8,180.1 504.9,180.1 506.0,180.1 507.2,180.0 508.3,179.9 509.4,179.8 510.6,179.7 511.7,179.5 512.8,179.3 513.9,179.0 515.1,178.7 516.2,178.4 517.3,178.0 518.5,177.6 519.6,177.3 520.7,176.9 521.8,176.5 523.0,176.2 524.1,175.8 525.2,175.5 526.4,175.3 527.5,175.1 528.6,175.0 529.7,175.0 530.9,175.1 532.0,175.3 533.1,175.4" fill="none" stroke="#4f9bcd" stroke-width="0.74" stroke-linejoin="round"/>
<rect x="34.5" y="160.6" width="507.0" height="33.7" fill="none" stroke="#868686" stroke-width="0.9"/>
<path d="M89.6,194.3v-4.5M89.6,160.6v4.5M146.1,194.3v-4.5M146.1,160.6v4.5M202.5,194.3v-4.5M202.5,160.6v4.5M258.9,194.3v-4.5M258.9,160.6v4.5M315.3,194.3v-4.5M315.3,160.6v4.5M371.8,194.3v-4.5M371.8,160.6v4.5M428.2,194.3v-4.5M428.2,160.6v4.5M484.6,194.3v-4.5M484.6,160.6v4.5M34.5,168.0h4.5M541.5,168.0h-4.5M34.5,179.2h4.5M541.5,179.2h-4.5M34.5,190.4h4.5M541.5,190.4h-4.5" fill="none" stroke="#868686" stroke-width="0.8"/>
<text x="31.3" y="170.6" font-size="7.8" text-anchor="end" fill="#2a2a2a" stroke="#2a2a2a" stroke-width="0.18">0.02</text>
<text x="31.3" y="181.8" font-size="7.8" text-anchor="end" fill="#2a2a2a" stroke="#2a2a2a" stroke-width="0.18">0</text>
<text x="31.3" y="193.0" font-size="7.8" text-anchor="end" fill="#2a2a2a" stroke="#2a2a2a" stroke-width="0.18">-0.02</text>
<text transform="translate(9.8,188.8) rotate(-90)" font-size="8.4" font-weight="bold" textLength="22.6" lengthAdjust="spacingAndGlyphs" fill="#1a1a1a">IMF 4</text>
</g>
<g>
<clipPath id="cres"><rect x="34.5" y="199.1" width="507.0" height="33.5"/></clipPath>
<path clip-path="url(#cres)" d="M34.3,200.7 35.5,200.5 36.6,200.3 37.7,200.1 38.8,199.9 40.0,199.7 41.1,199.6 42.2,199.5 43.4,199.4 44.5,199.4 45.6,199.4 46.7,199.4 47.9,199.4 49.0,199.5 50.1,199.5 51.3,199.5 52.4,199.5 53.5,199.6 54.6,199.6 55.8,199.7 56.9,199.7 58.0,199.7 59.2,199.8 60.3,199.8 61.4,199.9 62.5,199.9 63.7,199.9 64.8,200.0 65.9,200.0 67.1,200.1 68.2,200.2 69.3,200.2 70.4,200.3 71.6,200.3 72.7,200.4 73.8,200.5 75.0,200.6 76.1,200.6 77.2,200.7 78.3,200.8 79.5,200.9 80.6,200.9 81.7,201.0 82.9,201.1 84.0,201.2 85.1,201.3 86.2,201.3 87.4,201.4 88.5,201.5 89.6,201.6 90.8,201.7 91.9,201.8 93.0,201.9 94.1,202.0 95.3,202.1 96.4,202.2 97.5,202.3 98.7,202.4 99.8,202.5 100.9,202.6 102.0,202.7 103.2,202.8 104.3,202.9 105.4,203.0 106.6,203.1 107.7,203.2 108.8,203.3 109.9,203.4 111.1,203.6 112.2,203.7 113.3,203.8 114.5,203.9 115.6,204.1 116.7,204.2 117.8,204.3 119.0,204.4 120.1,204.6 121.2,204.7 122.4,204.8 123.5,205.0 124.6,205.1 125.7,205.2 126.9,205.4 128.0,205.5 129.1,205.6 130.3,205.8 131.4,205.9 132.5,206.1 133.6,206.2 134.8,206.3 135.9,206.5 137.0,206.6 138.2,206.8 139.3,206.9 140.4,207.1 141.5,207.2 142.7,207.4 143.8,207.5 144.9,207.7 146.1,207.8 147.2,208.0 148.3,208.1 149.4,208.3 150.6,208.4 151.7,208.6 152.8,208.8 153.9,208.9 155.1,209.1 156.2,209.3 157.3,209.4 158.5,209.6 159.6,209.8 160.7,210.0 161.8,210.2 163.0,210.4 164.1,210.5 165.2,210.7 166.4,210.9 167.5,211.1 168.6,211.3 169.7,211.5 170.9,211.7 172.0,211.9 173.1,212.1 174.3,212.3 175.4,212.5 176.5,212.7 177.6,212.9 178.8,213.1 179.9,213.3 181.0,213.5 182.2,213.7 183.3,213.9 184.4,214.1 185.5,214.3 186.7,214.5 187.8,214.7 188.9,214.9 190.1,215.1 191.2,215.3 192.3,215.5 193.4,215.7 194.6,215.9 195.7,216.1 196.8,216.3 198.0,216.4 199.1,216.6 200.2,216.8 201.3,217.0 202.5,217.2 203.6,217.4 204.7,217.6 205.9,217.8 207.0,217.9 208.1,218.1 209.2,218.3 210.4,218.5 211.5,218.7 212.6,218.9 213.8,219.1 214.9,219.3 216.0,219.5 217.1,219.7 218.3,219.9 219.4,220.1 220.5,220.3 221.7,220.5 222.8,220.7 223.9,220.8 225.0,221.0 226.2,221.2 227.3,221.4 228.4,221.6 229.6,221.8 230.7,222.0 231.8,222.2 232.9,222.4 234.1,222.6 235.2,222.8 236.3,222.9 237.5,223.1 238.6,223.3 239.7,223.5 240.8,223.7 242.0,223.8 243.1,224.0 244.2,224.2 245.4,224.4 246.5,224.5 247.6,224.7 248.7,224.9 249.9,225.0 251.0,225.2 252.1,225.3 253.3,225.5 254.4,225.6 255.5,225.8 256.6,225.9 257.8,226.1 258.9,226.2 260.0,226.3 261.2,226.5 262.3,226.6 263.4,226.7 264.5,226.9 265.7,227.0 266.8,227.1 267.9,227.2 269.1,227.4 270.2,227.5 271.3,227.6 272.4,227.8 273.6,227.9 274.7,228.0 275.8,228.2 277.0,228.3 278.1,228.4 279.2,228.5 280.3,228.6 281.5,228.8 282.6,228.9 283.7,229.0 284.9,229.1 286.0,229.2 287.1,229.3 288.2,229.5 289.4,229.6 290.5,229.7 291.6,229.8 292.8,229.9 293.9,230.0 295.0,230.1 296.1,230.2 297.3,230.3 298.4,230.4 299.5,230.5 300.7,230.6 301.8,230.7 302.9,230.7 304.0,230.8 305.2,230.9 306.3,231.0 307.4,231.1 308.6,231.1 309.7,231.2 310.8,231.3 311.9,231.3 313.1,231.4 314.2,231.4 315.3,231.5 316.5,231.6 317.6,231.6 318.7,231.7 319.8,231.7 321.0,231.8 322.1,231.8 323.2,231.8 324.4,231.9 325.5,231.9 326.6,231.9 327.7,231.9 328.9,231.9 330.0,231.9 331.1,231.9 332.3,231.8 333.4,231.8 334.5,231.8 335.6,231.8 336.8,231.7 337.9,231.7 339.0,231.6 340.2,231.6 341.3,231.5 342.4,231.5 343.5,231.4 344.7,231.4 345.8,231.3 346.9,231.2 348.1,231.2 349.2,231.1 350.3,231.0 351.4,231.0 352.6,230.9 353.7,230.8 354.8,230.7 356.0,230.7 357.1,230.6 358.2,230.5 359.3,230.4 360.5,230.3 361.6,230.3 362.7,230.2 363.9,230.1 365.0,230.0 366.1,229.9 367.2,229.8 368.4,229.7 369.5,229.7 370.6,229.6 371.8,229.5 372.9,229.4 374.0,229.3 375.1,229.2 376.3,229.1 377.4,229.0 378.5,228.9 379.6,228.8 380.8,228.7 381.9,228.5 383.0,228.4 384.2,228.3 385.3,228.1 386.4,228.0 387.5,227.9 388.7,227.7 389.8,227.6 390.9,227.4 392.1,227.3 393.2,227.1 394.3,227.0 395.4,226.8 396.6,226.6 397.7,226.5 398.8,226.3 400.0,226.2 401.1,226.0 402.2,225.8 403.3,225.7 404.5,225.5 405.6,225.3 406.7,225.2 407.9,225.0 409.0,224.9 410.1,224.7 411.2,224.5 412.4,224.4 413.5,224.2 414.6,224.1 415.8,223.9 416.9,223.8 418.0,223.6 419.1,223.5 420.3,223.3 421.4,223.2 422.5,223.0 423.7,222.9 424.8,222.8 425.9,222.6 427.0,222.5 428.2,222.4 429.3,222.3 430.4,222.1 431.6,222.0 432.7,221.9 433.8,221.8 434.9,221.7 436.1,221.5 437.2,221.4 438.3,221.3 439.5,221.2 440.6,221.1 441.7,220.9 442.8,220.8 444.0,220.7 445.1,220.6 446.2,220.5 447.4,220.3 448.5,220.2 449.6,220.1 450.7,220.0 451.9,219.9 453.0,219.8 454.1,219.6 455.3,219.5 456.4,219.4 457.5,219.3 458.6,219.2 459.8,219.1 460.9,219.0 462.0,218.9 463.2,218.8 464.3,218.7 465.4,218.6 466.5,218.5 467.7,218.4 468.8,218.3 469.9,218.2 471.1,218.1 472.2,218.0 473.3,217.9 474.4,217.9 475.6,217.8 476.7,217.7 477.8,217.6 479.0,217.5 480.1,217.5 481.2,217.4 482.3,217.3 483.5,217.3 484.6,217.2 485.7,217.1 486.9,217.1 488.0,217.0 489.1,217.0 490.2,216.9 491.4,216.8 492.5,216.8 493.6,216.7 494.8,216.7 495.9,216.6 497.0,216.6 498.1,216.5 499.3,216.4 500.4,216.4 501.5,216.3 502.7,216.3 503.8,216.2 504.9,216.2 506.0,216.1 507.2,216.1 508.3,216.0 509.4,216.0 510.6,215.9 511.7,215.9 512.8,215.9 513.9,215.8 515.1,215.8 516.2,215.7 517.3,215.7 518.5,215.7 519.6,215.6 520.7,215.6 521.8,215.6 523.0,215.5 524.1,215.5 525.2,215.5 526.4,215.4 527.5,215.4 528.6,215.4 529.7,215.4 530.9,215.3 532.0,215.3 533.1,215.3" fill="none" stroke="#4f9bcd" stroke-width="0.74" stroke-linejoin="round"/>
<rect x="34.5" y="199.1" width="507.0" height="33.5" fill="none" stroke="#868686" stroke-width="0.9"/>
<path d="M89.6,232.6v-4.5M89.6,199.1v4.5M146.1,232.6v-4.5M146.1,199.1v4.5M202.5,232.6v-4.5M202.5,199.1v4.5M258.9,232.6v-4.5M258.9,199.1v4.5M315.3,232.6v-4.5M315.3,199.1v4.5M371.8,232.6v-4.5M371.8,199.1v4.5M428.2,232.6v-4.5M428.2,199.1v4.5M484.6,232.6v-4.5M484.6,199.1v4.5M34.5,200.4h4.5M541.5,200.4h-4.5M34.5,216.4h4.5M541.5,216.4h-4.5M34.5,232.4h4.5M541.5,232.4h-4.5" fill="none" stroke="#868686" stroke-width="0.8"/>
<text x="31.3" y="203.0" font-size="7.8" text-anchor="end" fill="#2a2a2a" stroke="#2a2a2a" stroke-width="0.18">1.1</text>
<text x="31.3" y="219.0" font-size="7.8" text-anchor="end" fill="#2a2a2a" stroke="#2a2a2a" stroke-width="0.18">1.08</text>
<text x="31.3" y="235.0" font-size="7.8" text-anchor="end" fill="#2a2a2a" stroke="#2a2a2a" stroke-width="0.18">1.06</text>
<text transform="translate(13.7,232.8) rotate(-90)" font-size="8.4" font-weight="bold" textLength="34.0" lengthAdjust="spacingAndGlyphs" fill="#1a1a1a">Residual</text>
</g>
<text x="89.6" y="242.9" font-size="8.3" text-anchor="middle" fill="#2a2a2a" stroke="#2a2a2a" stroke-width="0.18">50</text>
<text x="146.1" y="242.9" font-size="8.3" text-anchor="middle" fill="#2a2a2a" stroke="#2a2a2a" stroke-width="0.18">100</text>
<text x="202.5" y="242.9" font-size="8.3" text-anchor="middle" fill="#2a2a2a" stroke="#2a2a2a" stroke-width="0.18">150</text>
<text x="258.9" y="242.9" font-size="8.3" text-anchor="middle" fill="#2a2a2a" stroke="#2a2a2a" stroke-width="0.18">200</text>
<text x="315.3" y="242.9" font-size="8.3" text-anchor="middle" fill="#2a2a2a" stroke="#2a2a2a" stroke-width="0.18">250</text>
<text x="371.8" y="242.9" font-size="8.3" text-anchor="middle" fill="#2a2a2a" stroke="#2a2a2a" stroke-width="0.18">300</text>
<text x="428.2" y="242.9" font-size="8.3" text-anchor="middle" fill="#2a2a2a" stroke="#2a2a2a" stroke-width="0.18">350</text>
<text x="484.6" y="242.9" font-size="8.3" text-anchor="middle" fill="#2a2a2a" stroke="#2a2a2a" stroke-width="0.18">400</text>
<text x="541.0" y="242.9" font-size="8.3" text-anchor="middle" fill="#2a2a2a" stroke="#2a2a2a" stroke-width="0.18">450</text>
<text x="282" y="252.4" font-size="11.6" text-anchor="middle" fill="#1a1a1a" stroke="#1a1a1a" stroke-width="0.2">Time (s)</text>
</svg></body></html>
